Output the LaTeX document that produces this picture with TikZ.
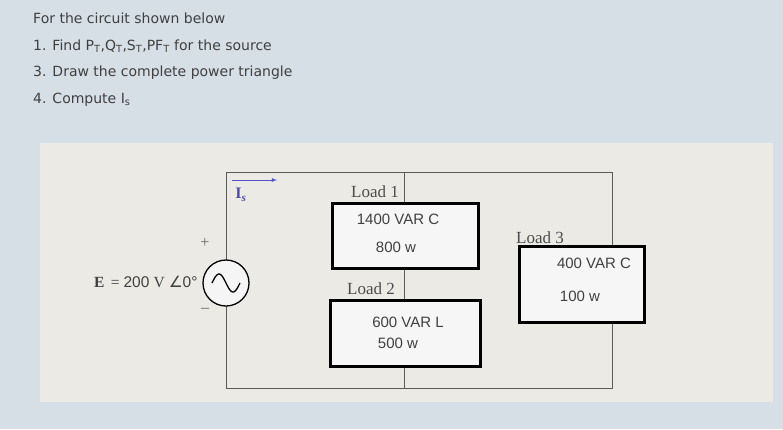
\documentclass[tikz,border=0pt]{standalone}
\usepackage{fontspec}
\setmainfont{Liberation Serif}
\newfontfamily\dv{DejaVu Sans}
\newfontfamily\ar{Liberation Sans}
\definecolor{bgtop}{HTML}{D6DEE6}
\definecolor{panel}{HTML}{EBEAE5}
\begin{document}
\begin{tikzpicture}[x=1pt,y=-1pt,
  wire/.style={draw=gray!70!black,line width=0.7pt},
  loadbox/.style={draw=black,line width=3pt,fill=white!93!gray},
  tl/.style={anchor=west,font=\dv\fontsize{14}{16}\selectfont,text=black!75,inner sep=0},
  ll/.style={font=\fontsize{17}{19}\selectfont,text=black!70,inner sep=1pt},
  vl/.style={font=\ar\fontsize{15}{17}\selectfont,text=black!75,inner sep=0}]
\fill[bgtop] (0,0) rectangle (783,429);
\fill[panel] (40,143) rectangle (773,402);
\useasboundingbox (0,0) rectangle (783,429);
\node[tl] (t1) at (33,18) {For the circuit shown below};
\node[tl] (t2) at (33,46) {1. Find P\textsubscript{T},Q\textsubscript{T},S\textsubscript{T},PF\textsubscript{T} for the source};
\node[tl] (t3) at (33,73) {3. Draw the complete power triangle};
\node[tl] (t4) at (33,100) {4. Compute I\textsubscript{s}};
% wires
\coordinate (tl) at (226,172); \coordinate (tr) at (612,172);
\coordinate (bl) at (226,388); \coordinate (br) at (612,388);
\coordinate (mt) at (404,172); \coordinate (mb) at (404,388);
\draw[wire] (tl) -- (tr) -- (br) -- (bl) -- cycle;
\draw[wire] (mt) -- (mb);
\node[circle,draw=black,line width=1.3pt,minimum size=46pt,fill=white!92!gray,inner sep=0] (src) at (226,283) {};
\draw[line width=1.3pt,shift={(src.center)}] plot[domain=-14:14,samples=40,smooth] (\x,{9*sin(\x*180/14)});
\node[loadbox,minimum width=146pt,minimum height=65pt] (l1) at (405,235.5) {};
\node[loadbox,minimum width=150pt,minimum height=66pt] (l2) at (405,333) {};
\node[loadbox,minimum width=125pt,minimum height=76pt] (l3) at (581.5,284) {};
\node[vl] at (398,219) {1400 VAR C};
\node[vl] at (396,247) {800 w};
\node[vl] at (408,322) {600 VAR L};
\node[vl] at (398,343) {500 w};
\node[vl] at (594,263) {400 VAR C};
\node[vl] at (580,296) {100 w};
\node[ll] (L1) at (375,192) {Load 1};
\node[ll] (L2) at (371,289) {Load 2};
\node[ll] (L3) at (540,238) {Load 3};
\coordinate (a1) at (232,180); \coordinate (a2) at (277,180);
\draw[-latex,blue!50!gray!90,line width=0.8pt] (a1) -- (a2);
\node[font=\bfseries\fontsize{16}{18}\selectfont,text=blue!40!gray] (is) at (241,195) {I\textsubscript{\textit{s}}};
\node[font=\fontsize{16}{18}\selectfont,text=black!60] (p) at (205,243) {+};
\node[font=\fontsize{16}{18}\selectfont,text=black!60] (m) at (205,310) {--};
\node[font=\fontsize{15.5}{17}\selectfont,text=black!75,anchor=east] (E) at (201,282) {\textbf{E}\, = \ar 200 \rmfamily V \dv∠\ar 0°};
\end{tikzpicture}
\end{document}
